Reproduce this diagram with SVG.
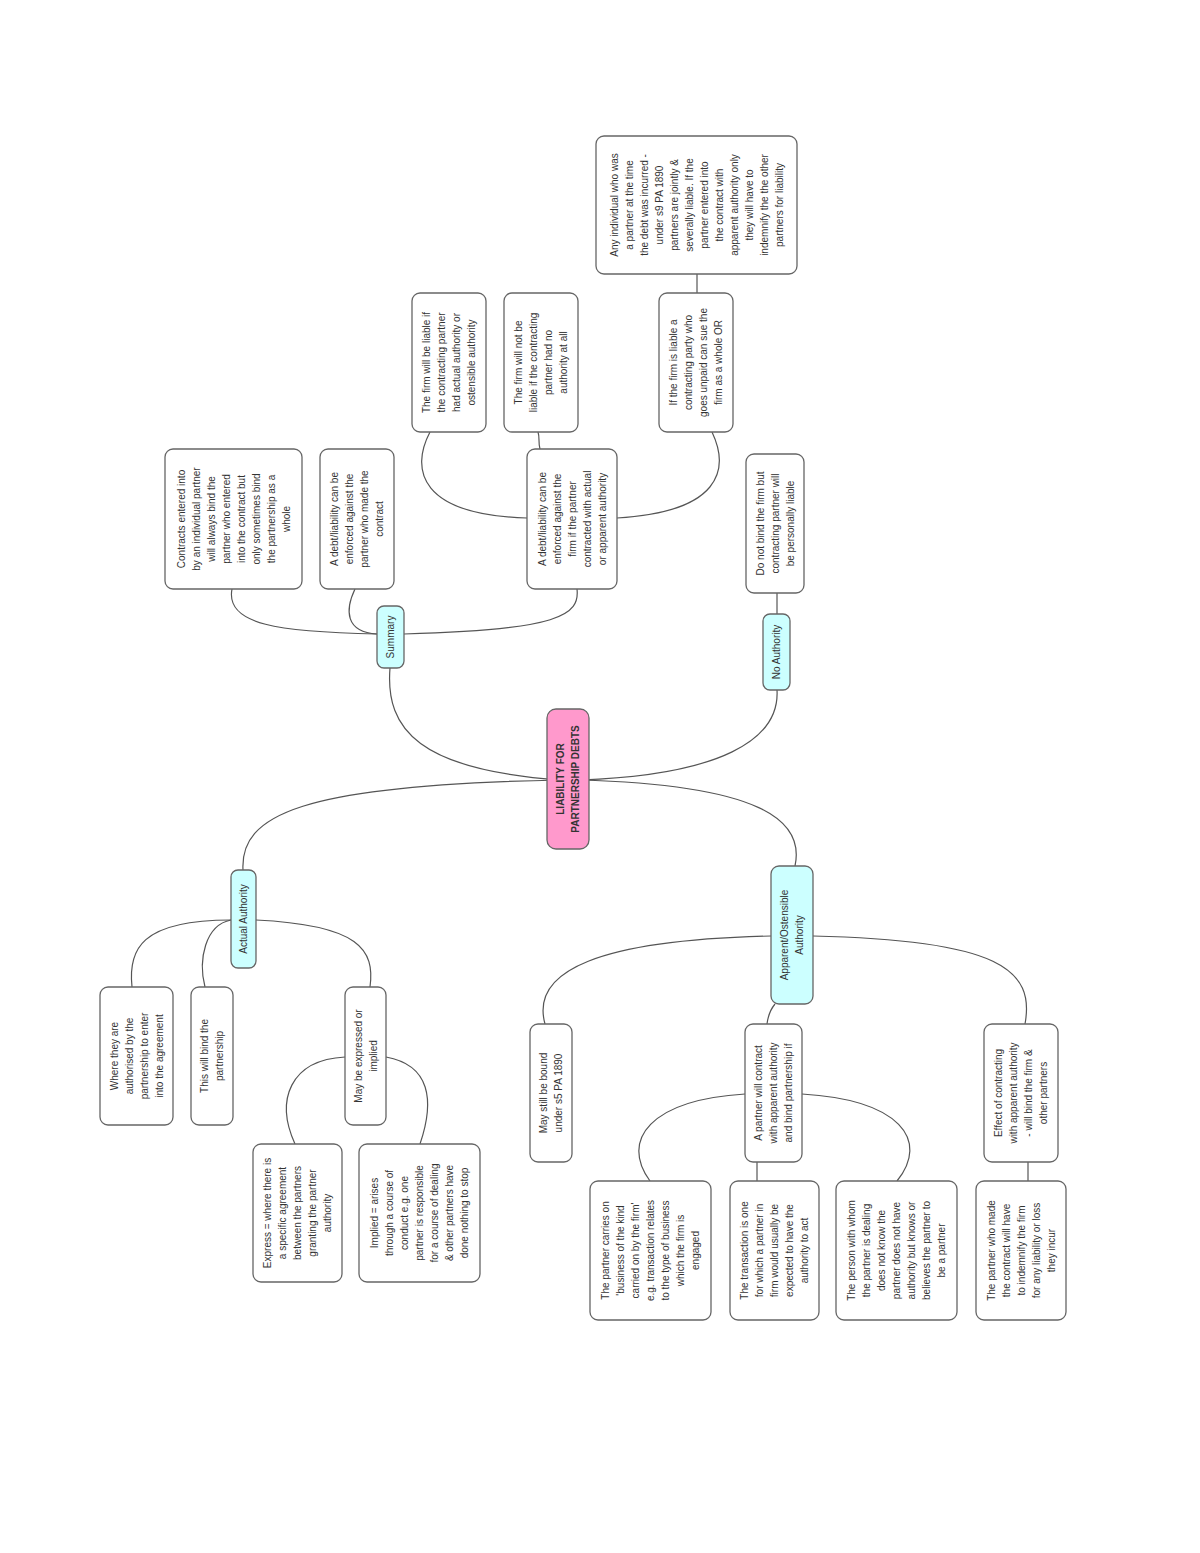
<svg xmlns="http://www.w3.org/2000/svg" width="1200" height="1553" viewBox="0 0 1200 1553">
<style>
.b rect{fill:#fff;stroke:#666;stroke-width:1.3}
.c rect{fill:#ccffff;stroke:#666;stroke-width:1.3}
.p rect{fill:#ff99cc;stroke:#666;stroke-width:1.3}
text{font-family:"Liberation Sans",Arial,sans-serif;font-size:10px;fill:#333;text-anchor:middle}
.p text{font-weight:bold}
#conn path{fill:none;stroke:#555;stroke-width:1.2}
</style>
<rect width="1200" height="1553" fill="#fff"/>
<g id="conn">
<path d="M560,780 C420,770 385,730 390,668"/>
<path d="M580,780 C720,775 780,740 777,690"/>
<path d="M560,780 C300,785 240,815 243,870"/>
<path d="M580,780 C760,785 805,820 795,866"/>
<path d="M377,634 C280,632 225,625 232,589"/>
<path d="M377,634 C345,632 345,610 355,589"/>
<path d="M404,634 C560,630 580,615 577,589"/>
<path d="M527,518 C420,515 410,470 430,432"/>
<path d="M540,449 C538,442 540,438 538,432"/>
<path d="M617,518 C720,512 730,470 712,432"/>
<path d="M697,293 L697,274"/>
<path d="M777,614 L777,593"/>
<path d="M231,920 C140,920 128,950 132,987"/>
<path d="M231,920 C205,925 198,960 205,987"/>
<path d="M256,920 C360,925 375,950 370,987"/>
<path d="M345,1057 C290,1060 275,1100 295,1144"/>
<path d="M386,1057 C430,1065 435,1100 420,1144"/>
<path d="M771,936 C600,940 530,970 545,1024"/>
<path d="M775,1004 C770,1010 768,1016 767,1024"/>
<path d="M813,936 C1000,940 1035,970 1025,1024"/>
<path d="M745,1094 C650,1100 620,1140 650,1181"/>
<path d="M757,1162 L757,1181"/>
<path d="M802,1094 C900,1100 930,1140 897,1181"/>
<path d="M1028,1162 L1028,1181"/>
</g>
<g id="central" class="p" transform="translate(568,779) rotate(-90)"><rect x="-70" y="-21" width="140" height="42" rx="9"/><text><tspan x="0" dy="-4">LIABILITY FOR</tspan><tspan x="0" dy="15">PARTNERSHIP DEBTS</tspan></text></g>
<g id="summary" class="c" transform="translate(390.5,637) rotate(-90)"><rect x="-31" y="-13.5" width="62" height="27" rx="7"/><text dy="3.5">Summary</text></g>
<g id="noauth" class="c" transform="translate(776.5,652) rotate(-90)"><rect x="-38" y="-13.5" width="76" height="27" rx="7"/><text dy="3.5">No Authority</text></g>
<g id="actual" class="c" transform="translate(243.5,919) rotate(-90)"><rect x="-49" y="-12.5" width="98" height="25" rx="7"/><text dy="3.5">Actual Authority</text></g>
<g id="apparent" class="c" transform="translate(792,935) rotate(-90)"><rect x="-69" y="-21" width="138" height="42" rx="8"/><text><tspan x="0" dy="-4">Apparent/Ostensible</tspan><tspan x="0" dy="15">Authority</tspan></text></g>
<g id="a1" class="b" transform="translate(233.5,519) rotate(-90)"><rect x="-70" y="-68.5" width="140" height="137" rx="8"/><text><tspan x="0" dy="-49">Contracts entered into</tspan><tspan x="0" dy="15">by an individual partner</tspan><tspan x="0" dy="15">will always bind the</tspan><tspan x="0" dy="15">partner who entered</tspan><tspan x="0" dy="15">into the contract but</tspan><tspan x="0" dy="15">only sometimes bind</tspan><tspan x="0" dy="15">the partnership as a</tspan><tspan x="0" dy="15">whole</tspan></text></g>
<g id="a2" class="b" transform="translate(357,519) rotate(-90)"><rect x="-70" y="-37" width="140" height="74" rx="8"/><text><tspan x="0" dy="-19">A debt/liability can be</tspan><tspan x="0" dy="15">enforced against the</tspan><tspan x="0" dy="15">partner who made the</tspan><tspan x="0" dy="15">contract</tspan></text></g>
<g id="a3" class="b" transform="translate(572,519) rotate(-90)"><rect x="-70" y="-45" width="140" height="90" rx="8"/><text><tspan x="0" dy="-26.5">A debt/liability can be</tspan><tspan x="0" dy="15">enforced against the</tspan><tspan x="0" dy="15">firm if the partner</tspan><tspan x="0" dy="15">contracted with actual</tspan><tspan x="0" dy="15">or apparent authority</tspan></text></g>
<g id="b1" class="b" transform="translate(449,362.5) rotate(-90)"><rect x="-69.5" y="-37" width="139" height="74" rx="8"/><text><tspan x="0" dy="-19">The firm will be liable if</tspan><tspan x="0" dy="15">the contracting partner</tspan><tspan x="0" dy="15">had actual authority or</tspan><tspan x="0" dy="15">ostensible authority</tspan></text></g>
<g id="b2" class="b" transform="translate(541,362.5) rotate(-90)"><rect x="-69.5" y="-37" width="139" height="74" rx="8"/><text><tspan x="0" dy="-19">The firm will not be</tspan><tspan x="0" dy="15">liable if the contracting</tspan><tspan x="0" dy="15">partner had no</tspan><tspan x="0" dy="15">authority at all</tspan></text></g>
<g id="b3" class="b" transform="translate(696,362.5) rotate(-90)"><rect x="-69.5" y="-37" width="139" height="74" rx="8"/><text><tspan x="0" dy="-19">If the firm is liable a</tspan><tspan x="0" dy="15">contracting party who</tspan><tspan x="0" dy="15">goes unpaid can sue the</tspan><tspan x="0" dy="15">firm as a whole OR</tspan></text></g>
<g id="b4" class="b" transform="translate(696.5,205) rotate(-90)"><rect x="-69" y="-100.5" width="138" height="201" rx="8"/><text><tspan x="0" dy="-79">Any individual who was</tspan><tspan x="0" dy="15">a partner at the time</tspan><tspan x="0" dy="15">the debt was incurred -</tspan><tspan x="0" dy="15">under s9 PA 1890</tspan><tspan x="0" dy="15">partners are jointly &amp;</tspan><tspan x="0" dy="15">severally liable. If the</tspan><tspan x="0" dy="15">partner entered into</tspan><tspan x="0" dy="15">the contract with</tspan><tspan x="0" dy="15">apparent authority only</tspan><tspan x="0" dy="15">they will have to</tspan><tspan x="0" dy="15">indemnify the the other</tspan><tspan x="0" dy="15">partners for liability</tspan></text></g>
<g id="n1" class="b" transform="translate(775,523.5) rotate(-90)"><rect x="-69.5" y="-29" width="139" height="58" rx="8"/><text><tspan x="0" dy="-11.5">Do not bind the firm but</tspan><tspan x="0" dy="15">contracting partner will</tspan><tspan x="0" dy="15">be personally liable</tspan></text></g>
<g id="c1" class="b" transform="translate(136.5,1056) rotate(-90)"><rect x="-69" y="-36.5" width="138" height="73" rx="8"/><text><tspan x="0" dy="-19">Where they are</tspan><tspan x="0" dy="15">authorised by the</tspan><tspan x="0" dy="15">partnership to enter</tspan><tspan x="0" dy="15">into the agreement</tspan></text></g>
<g id="c2" class="b" transform="translate(212,1056) rotate(-90)"><rect x="-69" y="-21" width="138" height="42" rx="8"/><text><tspan x="0" dy="-4">This will bind the</tspan><tspan x="0" dy="15">partnership</tspan></text></g>
<g id="c3" class="b" transform="translate(365.5,1056) rotate(-90)"><rect x="-69" y="-20.5" width="138" height="41" rx="8"/><text><tspan x="0" dy="-4">May be expressed or</tspan><tspan x="0" dy="15">implied</tspan></text></g>
<g id="c4" class="b" transform="translate(297.5,1213) rotate(-90)"><rect x="-69" y="-44.5" width="138" height="89" rx="8"/><text><tspan x="0" dy="-26.5">Express = where there is</tspan><tspan x="0" dy="15">a specific agreement</tspan><tspan x="0" dy="15">between the partners</tspan><tspan x="0" dy="15">granting the partner</tspan><tspan x="0" dy="15">authority</tspan></text></g>
<g id="c5" class="b" transform="translate(419.5,1213) rotate(-90)"><rect x="-69" y="-60.5" width="138" height="121" rx="8"/><text><tspan x="0" dy="-41.5">Implied = arises</tspan><tspan x="0" dy="15">through a course of</tspan><tspan x="0" dy="15">conduct e.g. one</tspan><tspan x="0" dy="15">partner is responsible</tspan><tspan x="0" dy="15">for a course of dealing</tspan><tspan x="0" dy="15">&amp; other partners have</tspan><tspan x="0" dy="15">done nothing to stop</tspan></text></g>
<g id="d1" class="b" transform="translate(551,1093) rotate(-90)"><rect x="-69" y="-21" width="138" height="42" rx="8"/><text><tspan x="0" dy="-4">May still be bound</tspan><tspan x="0" dy="15">under s5 PA 1890</tspan></text></g>
<g id="d2" class="b" transform="translate(773.5,1093) rotate(-90)"><rect x="-69" y="-28.5" width="138" height="57" rx="8"/><text><tspan x="0" dy="-11.5">A partner will contract</tspan><tspan x="0" dy="15">with apparent authority</tspan><tspan x="0" dy="15">and bind partnership if</tspan></text></g>
<g id="d3" class="b" transform="translate(1021,1093) rotate(-90)"><rect x="-69" y="-37" width="138" height="74" rx="8"/><text><tspan x="0" dy="-19">Effect of contracting</tspan><tspan x="0" dy="15">with apparent authority</tspan><tspan x="0" dy="15">- will bind the firm &amp;</tspan><tspan x="0" dy="15">other partners</tspan></text></g>
<g id="e1" class="b" transform="translate(650.5,1250.5) rotate(-90)"><rect x="-69.5" y="-60.5" width="139" height="121" rx="8"/><text><tspan x="0" dy="-41.5">The partner carries on</tspan><tspan x="0" dy="15">'business of the kind</tspan><tspan x="0" dy="15">carried on by the firm'</tspan><tspan x="0" dy="15">e.g. transaction relates</tspan><tspan x="0" dy="15">to the type of business</tspan><tspan x="0" dy="15">which the firm is</tspan><tspan x="0" dy="15">engaged</tspan></text></g>
<g id="e2" class="b" transform="translate(774.5,1250.5) rotate(-90)"><rect x="-69.5" y="-44.5" width="139" height="89" rx="8"/><text><tspan x="0" dy="-26.5">The transaction is one</tspan><tspan x="0" dy="15">for which a partner in</tspan><tspan x="0" dy="15">firm would usually be</tspan><tspan x="0" dy="15">expected to have the</tspan><tspan x="0" dy="15">authority to act</tspan></text></g>
<g id="e3" class="b" transform="translate(896.5,1250.5) rotate(-90)"><rect x="-69.5" y="-60.5" width="139" height="121" rx="8"/><text><tspan x="0" dy="-41.5">The person with whom</tspan><tspan x="0" dy="15">the partner is dealing</tspan><tspan x="0" dy="15">does not know the</tspan><tspan x="0" dy="15">partner does not have</tspan><tspan x="0" dy="15">authority but knows or</tspan><tspan x="0" dy="15">believes the partner to</tspan><tspan x="0" dy="15">be a partner</tspan></text></g>
<g id="e4" class="b" transform="translate(1021,1250.5) rotate(-90)"><rect x="-69.5" y="-45" width="139" height="90" rx="8"/><text><tspan x="0" dy="-26.5">The partner who made</tspan><tspan x="0" dy="15">the contract will have</tspan><tspan x="0" dy="15">to indemnify the firm</tspan><tspan x="0" dy="15">for any liability or loss</tspan><tspan x="0" dy="15">they incur</tspan></text></g>
</svg>
